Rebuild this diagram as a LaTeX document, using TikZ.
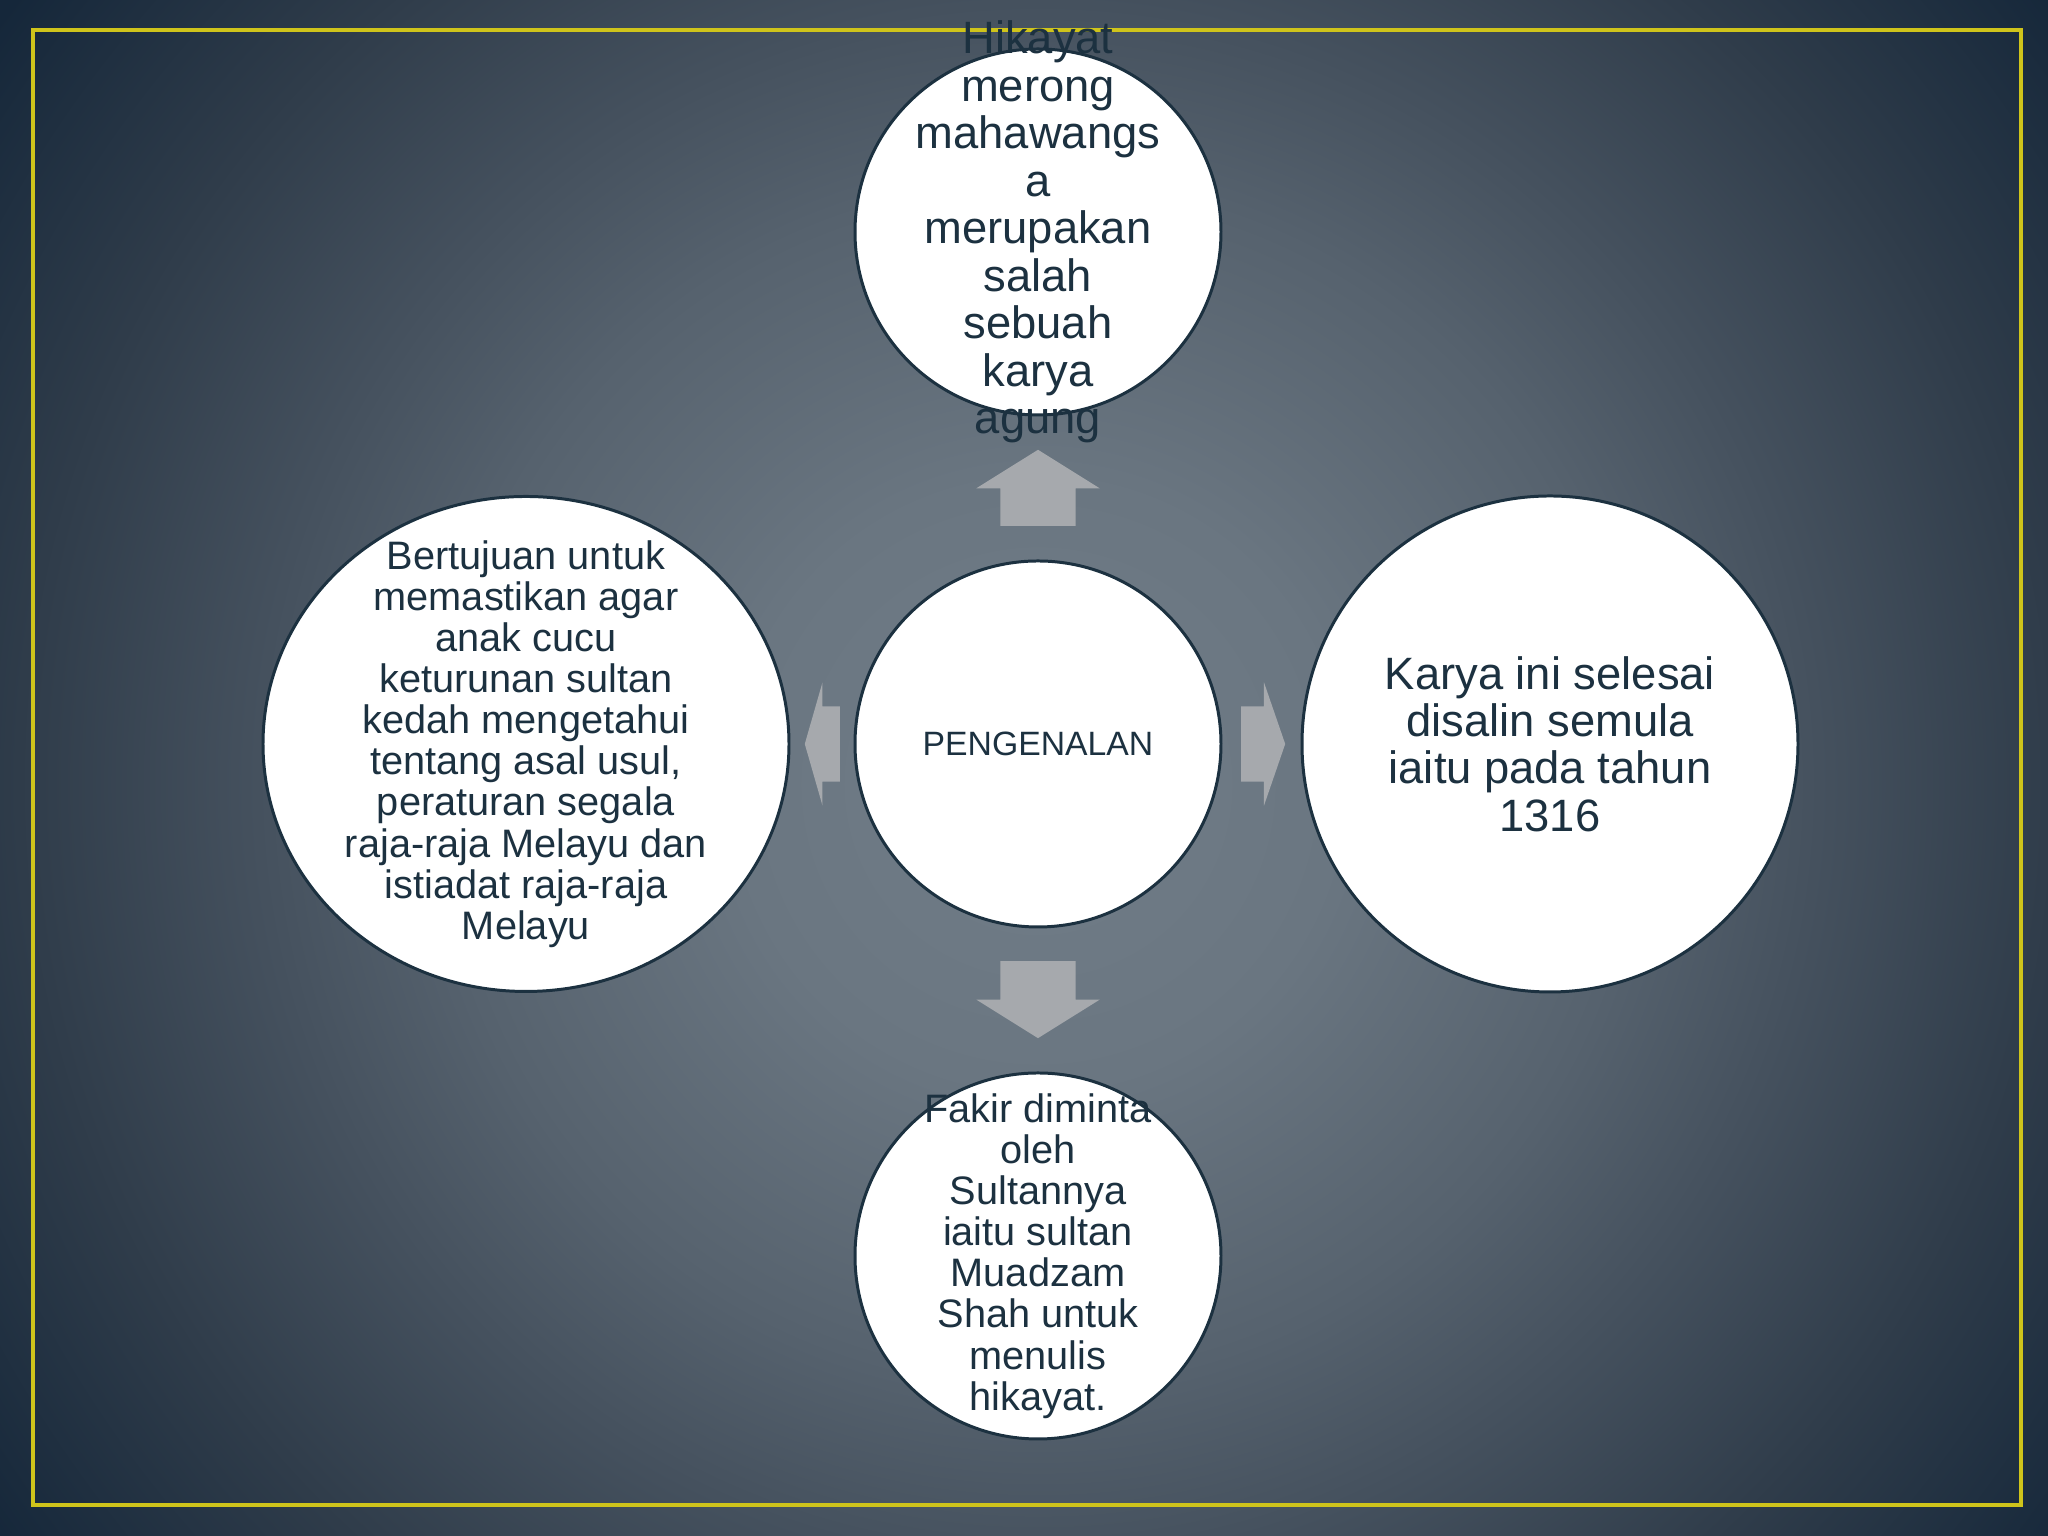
\documentclass[tikz,border=0pt]{standalone}
\usepackage{fontspec}
\setmainfont{Liberation Sans}
\usetikzlibrary{shapes,calc}

\definecolor{slidecentre}{HTML}{717D88}
\definecolor{slidemid}{HTML}{6A7681}
\definecolor{slidemidb}{HTML}{56626E}
\definecolor{slidemidc}{HTML}{46525F}
\definecolor{slidemidd}{HTML}{2F3C4A}
\definecolor{slideedge}{HTML}{15273A}
\definecolor{inkblue}{HTML}{1C3140}
\definecolor{arrowgrey}{HTML}{A6A9AD}
\definecolor{frameyellow}{HTML}{CFC41B}

\pgfdeclareradialshading{slideglow}{\pgfpoint{0bp}{0bp}}{%
color(0bp)=(slidecentre); color(5.8bp)=(slidemid); color(11.5bp)=(slidemidb);
color(14.8bp)=(slidemidc); color(19.6bp)=(slidemidd); color(24.8bp)=(slideedge);
color(50bp)=(slideedge)}

\begin{document}
\begin{tikzpicture}
\tikzset{
bubble/.style={circle, draw=inkblue, line width=0.85pt, fill=white, minimum size=3.66cm, inner sep=0pt, node distance=5.12cm},
bigbubble/.style={bubble, minimum size=4.96cm},
bubbletext/.style={text=inkblue, align=center, inner sep=0pt},
bigtext/.style={bubbletext, font=\fontsize{12.9}{13.5}\selectfont},
smalltext/.style={bubbletext, font=\fontsize{11.3}{11.7}\selectfont},
titletext/.style={bubbletext, font=\fontsize{9.6}{11}\selectfont},
fatarrow/.style={single arrow, fill=arrowgrey, inner xsep=0pt, inner ysep=0.37cm, single arrow head extend=0.24cm, anchor=tail},
slideframe/.style={draw=frameyellow, line width=1.25pt},
}

% background and frame
\useasboundingbox (0,0) rectangle (20.48,15.36);
\begin{scope}
\clip (0,0) rectangle (20.48,15.36);
\shade[shading=slideglow] (-2.62,-5.48) rectangle (23.38,20.52);
\end{scope}
\draw[slideframe] (0.33,0.31) rectangle (20.21,15.06);

\node [bubble] (intro) at (10.38,7.92) {};
\node [bubble, above of=intro] (hikayat) {};
\node [bubble, below of=intro] (fakir) {};
\node [bubble, ellipse, minimum width=5.26cm, minimum height=4.95cm, left of=intro] (tujuan) {};
\node [bigbubble, right of=intro] (salin) {};

\node [fatarrow, rotate=90, minimum height=0.76cm, single arrow tip angle=116] (uparrow) at ($(intro.north)+(0,0.33)$) {};
\node [fatarrow, rotate=-90, minimum height=0.77cm, single arrow tip angle=116] (downarrow) at ($(intro.south)+(0,-0.32)$) {};
\node [fatarrow, rotate=180, minimum height=0.35cm, single arrow tip angle=148] (leftarrow) at ($(intro.west)+(-0.13,0)$) {};
\node [fatarrow, minimum height=0.44cm, single arrow tip angle=142] (rightarrow) at ($(intro.east)+(0.18,0)$) {};

\node [titletext] (introtext) at (intro) {PENGENALAN};
\node [bigtext] (hikayattext) at (hikayat) {Hikayat\\merong\\mahawangs\\a\\merupakan\\salah\\sebuah\\karya\\agung};
\node [smalltext] (fakirtext) at (fakir) {Fakir diminta\\oleh\\Sultannya\\iaitu sultan\\Muadzam\\Shah untuk\\menulis\\hikayat.};
\node [smalltext] (tujuantext) at (tujuan) {Bertujuan untuk\\memastikan agar\\anak cucu\\keturunan sultan\\kedah mengetahui\\tentang asal usul,\\peraturan segala\\raja-raja Melayu dan\\istiadat raja-raja\\Melayu};
\node [bigtext] (salintext) at (salin) {Karya ini selesai\\disalin semula\\iaitu pada tahun\\1316};
\end{tikzpicture}
\end{document}
